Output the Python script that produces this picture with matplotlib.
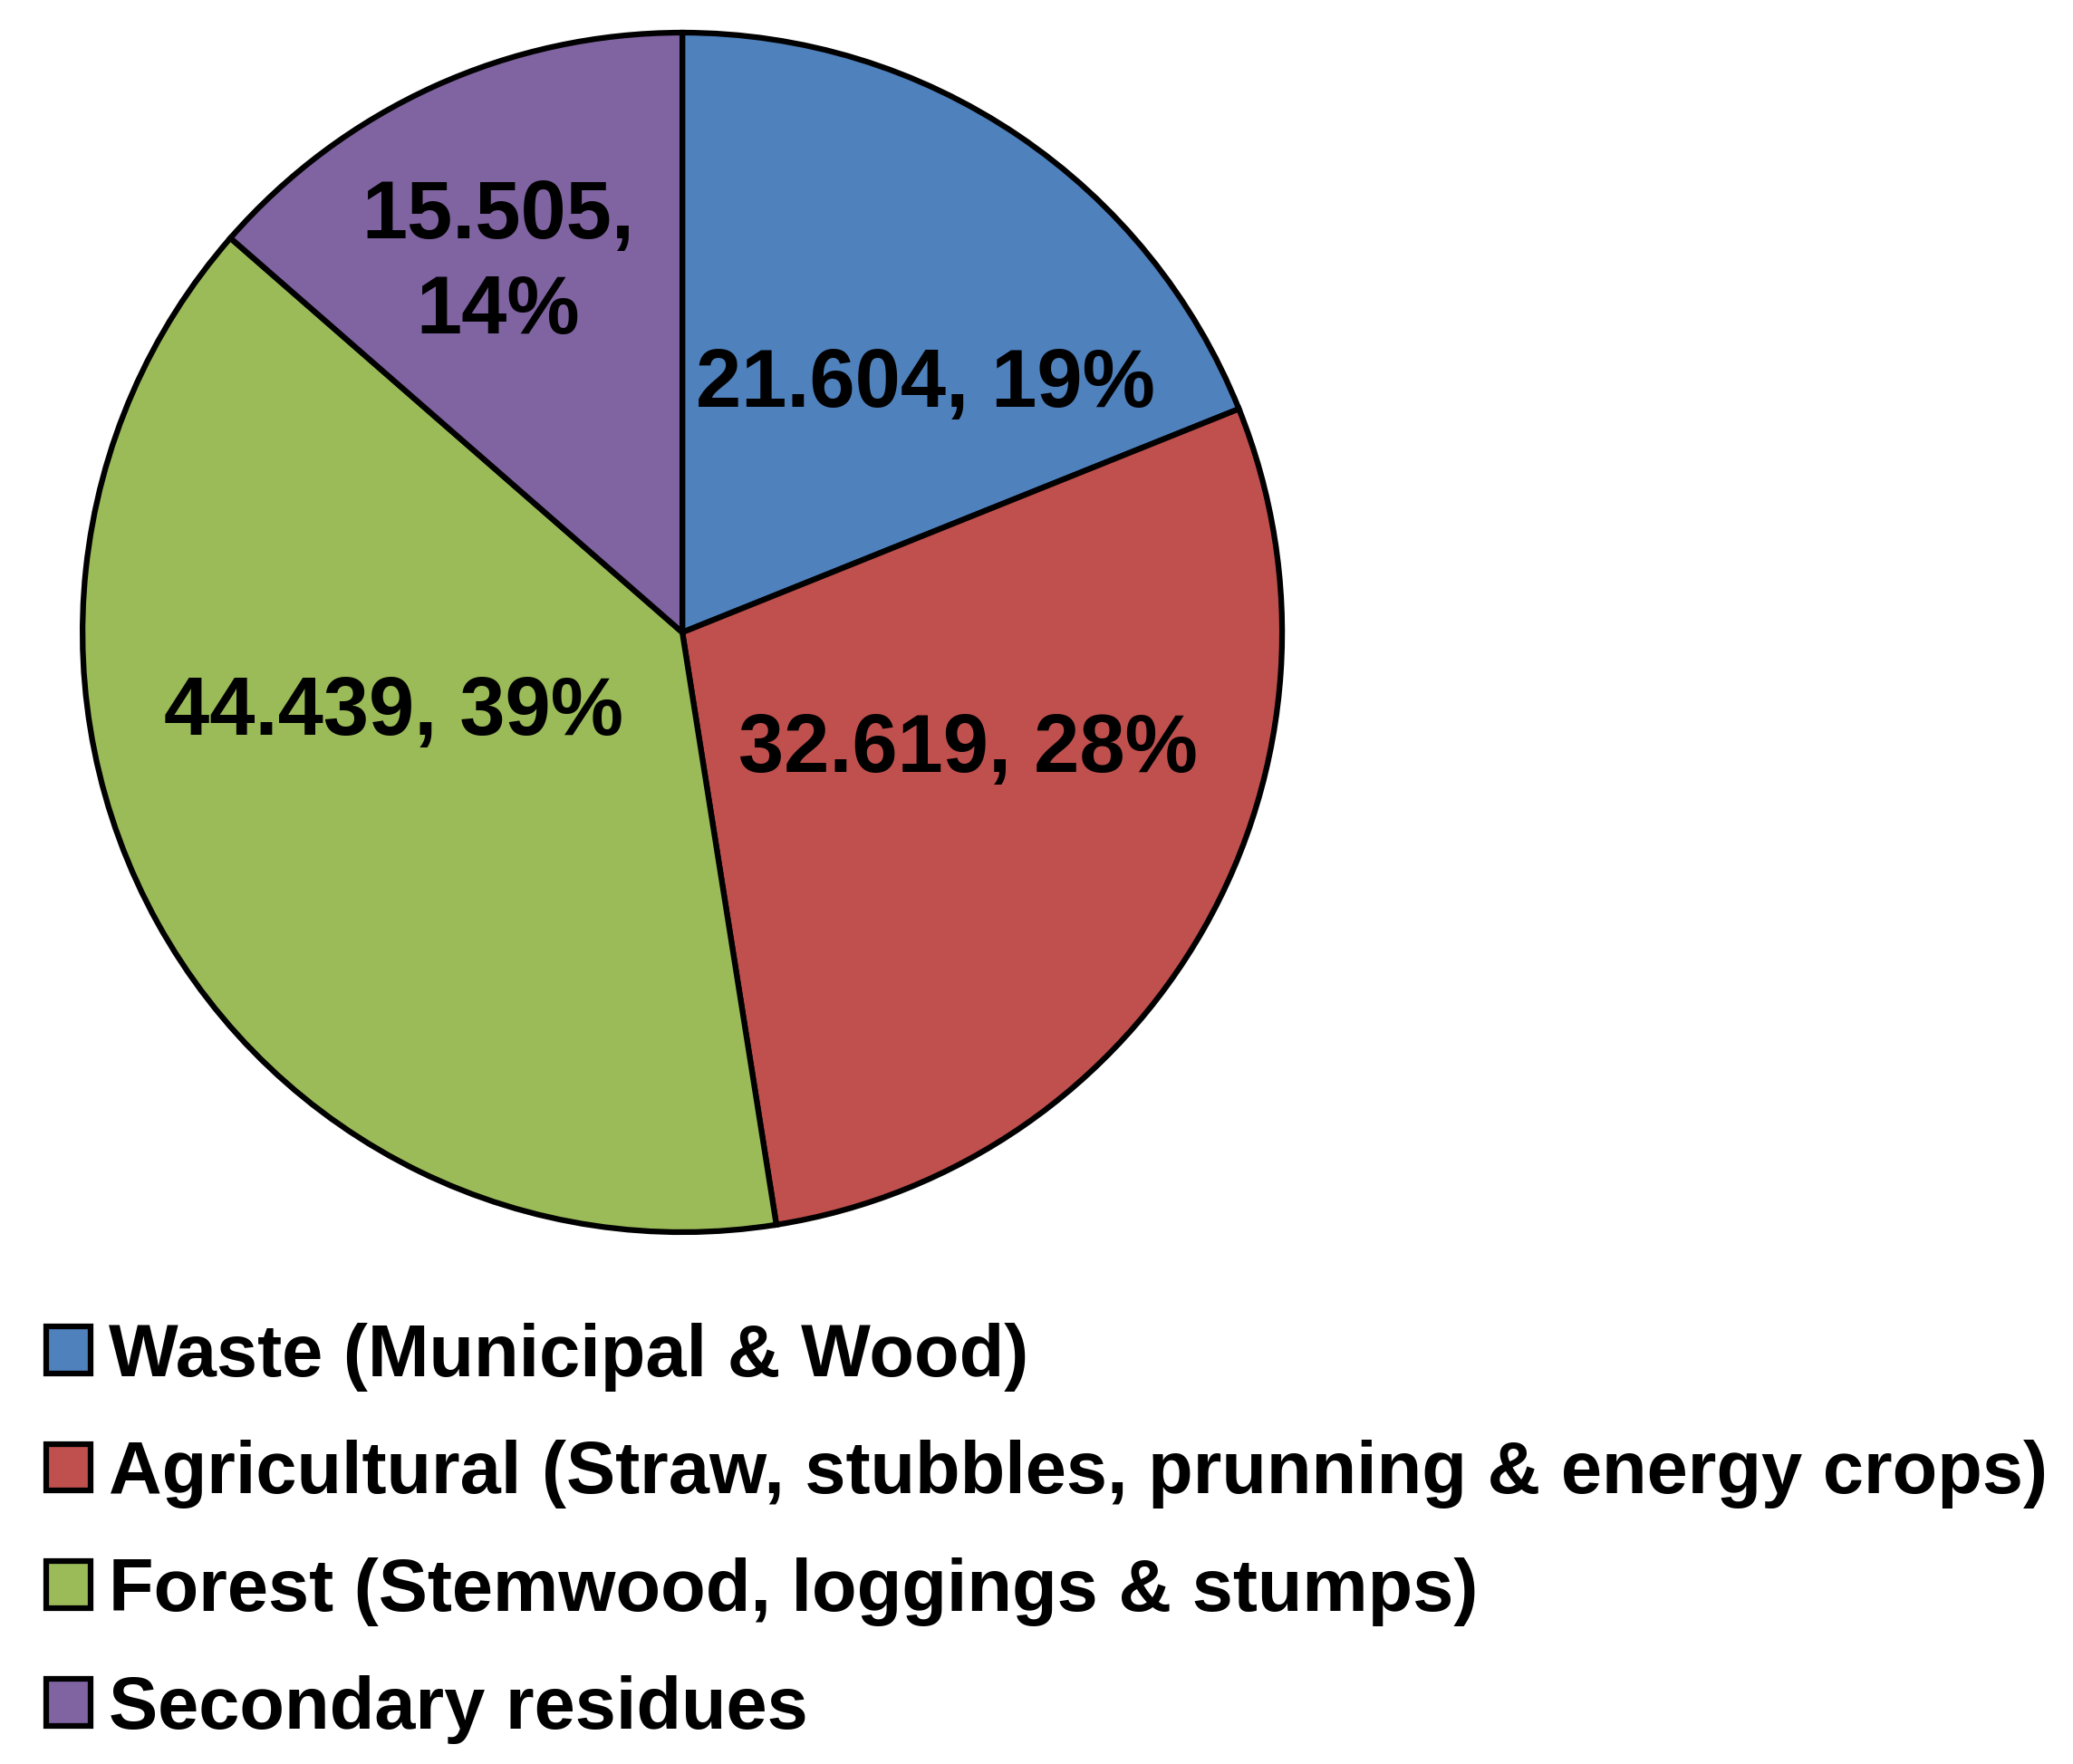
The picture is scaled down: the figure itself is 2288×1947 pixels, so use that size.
import numpy as np
import matplotlib
matplotlib.use("Agg")
import matplotlib.pyplot as plt

categories = ["Waste (Municipal & Wood)",
              "Agricultural (Straw, stubbles, prunning & energy crops)",
              "Forest (Stemwood, loggings & stumps)",
              "Secondary residues"]
values = [21.604, 32.619, 44.439, 15.505]
pct_labels = ["19%", "28%", "39%", "14%"]
colors = ["#4F81BD", "#C0504D", "#9BBB59", "#8064A2"]

plt.rcParams['font.family'] = ['Liberation Sans', 'DejaVu Sans']

fig = plt.figure(figsize=(22.88, 19.47), dpi=100)
ax = fig.add_axes([0.0398, 0.3015, 0.5787, 0.680])

wedges, _ = ax.pie(values, colors=colors, startangle=90, counterclock=False,
                   radius=1.0,
                   wedgeprops=dict(edgecolor="black", linewidth=4.5))
ax.set_xlim(-1, 1)
ax.set_ylim(-1, 1)
ax.set_aspect("equal")

# label nudges relative to wedge middle (radius, angle shift in degrees)
label_r = [0.577, 0.515, 0.50, 0.686]
label_shift = [-10.5, 7.0, -13.3, 2.2]
for i, w in enumerate(wedges):
    mid = (w.theta1 + w.theta2) / 2 + label_shift[i]
    x = label_r[i] * np.cos(np.radians(mid))
    y = label_r[i] * np.sin(np.radians(mid))
    val = f"{values[i]:.3f}"
    if i == 3:
        txt = f"{val},\n{pct_labels[i]}"
    else:
        txt = f"{val}, {pct_labels[i]}"
    ax.text(x, y, txt, ha="center", va="center", fontsize=65,
            fontweight="bold", color="black", linespacing=1.3)

leg = fig.legend(wedges, categories, loc="upper left",
                 bbox_to_anchor=(0.008, 0.267), frameon=False,
                 prop=dict(weight="bold", size=58.5),
                 handlelength=0.6, handleheight=0.6, handletextpad=0.25,
                 labelspacing=0.66, borderaxespad=0)
for h in leg.legend_handles:
    h.set_linewidth(4.5)

fig.savefig("out.png", dpi=100)
